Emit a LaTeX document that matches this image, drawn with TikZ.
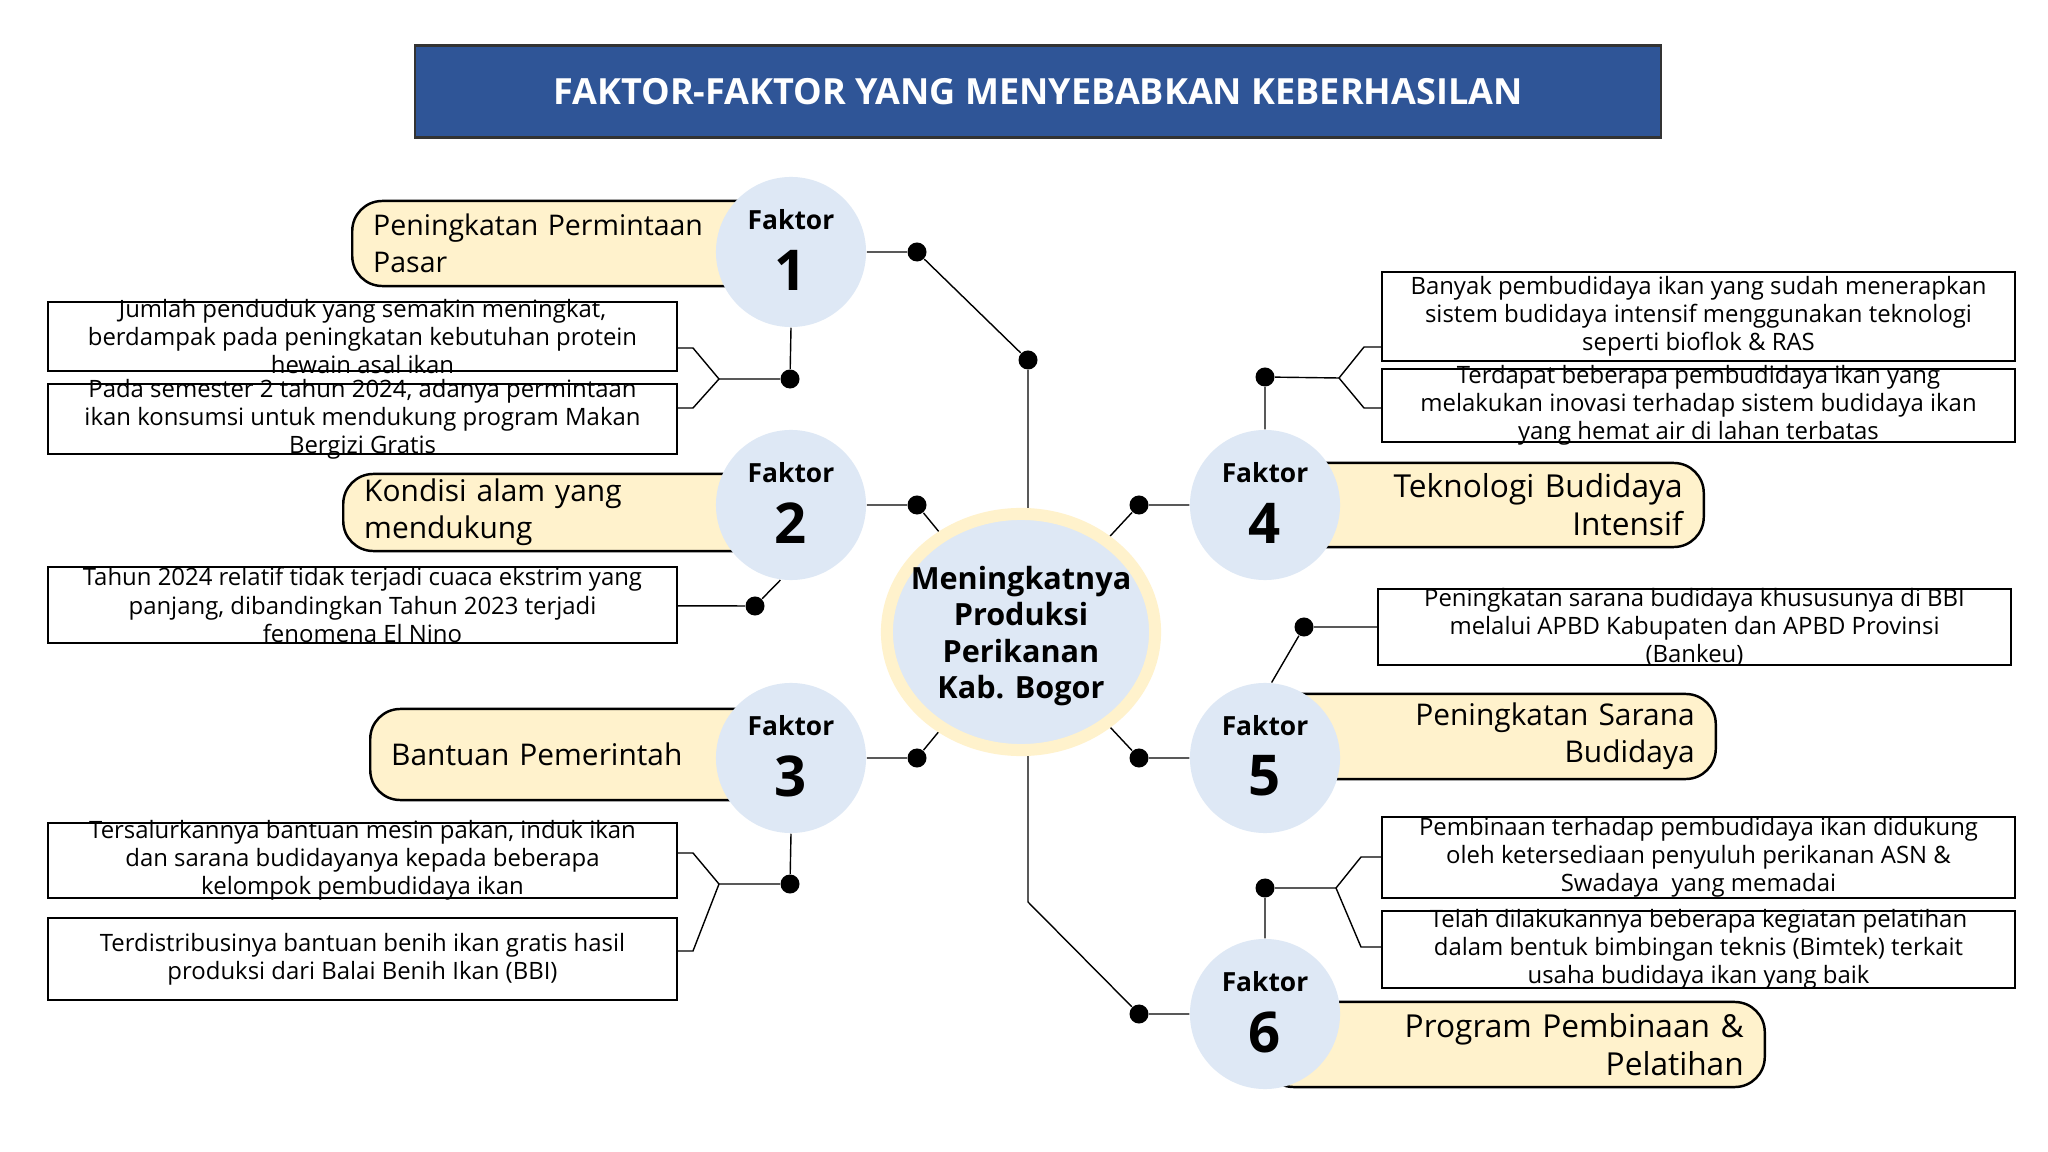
\documentclass[tikz,border=0pt]{standalone}
\usepackage{fontspec}
\setmainfont{Open Sans}
\usetikzlibrary{shapes.geometric,backgrounds}

\definecolor{titleblue}{HTML}{2F5597}
\definecolor{fblue}{HTML}{DEE8F5}
\definecolor{pillyellow}{HTML}{FFF2CC}

\tikzset{
    conn/.style={line width=0.85pt, black},
    dot/.style={circle, fill=black, inner sep=0pt, minimum size=0.19cm},
    fcircle/.style={circle, fill=fblue, inner sep=0pt, minimum size=1.5cm},
    fword/.style={font=\fontsize{7.5}{9}\selectfont\bfseries, yshift=0.32cm},
    fnum/.style={font=\fontsize{16}{18}\selectfont\bfseries, yshift=-0.18cm},
    pill/.style={draw, line width=0.7pt, fill=pillyellow, rounded corners=0.3cm, inner xsep=0.21cm, inner ysep=0pt, font=\fontsize{8.5}{10.5}\selectfont},
    desc/.style={draw, line width=0.6pt, fill=white, inner sep=0pt},
    dtext/.style={font=\fontsize{6.8}{8}\selectfont, align=center, inner sep=0pt},
    titlebox/.style={draw=black!80, line width=0.6pt, fill=titleblue, text=white, font=\fontsize{10.25}{12}\selectfont\bfseries, minimum width=12.46cm, minimum height=0.92cm},
    ctrnode/.style={ellipse, draw=pillyellow, line width=0.12cm, fill=fblue, inner sep=0pt, minimum width=2.68cm, minimum height=2.36cm},
    ctext/.style={align=center, inner sep=0pt, yshift=-0.04cm, font=\fontsize{8.7}{10.3}\selectfont\bfseries}
}

\begin{document}
\begin{tikzpicture}[x=0.01cm, y=-0.01cm]
    \useasboundingbox (0,0) rectangle (2048,1152);

    % Title
    \node[titlebox] (title) at (1038,91.5) {\raisebox{-0.09cm}{FAKTOR-FAKTOR YANG MENYEBABKAN KEBERHASILAN}};

    % Labels behind the factor circles
    \node[pill, anchor=west, minimum width=4.4cm, minimum height=0.85cm, text width=3.98cm, align=left, font=\fontsize{8.1}{10.5}\selectfont] (p1) at (351,243.5) {Peningkatan Permintaan\\Pasar};
    \node[pill, anchor=west, minimum width=4.49cm, minimum height=0.77cm, text width=4.07cm, align=left] (p2) at (342,512.5) {Kondisi alam yang\\mendukung};
    \node[pill, anchor=west, minimum width=4.22cm, minimum height=0.91cm, text width=3.8cm, align=left] (p3) at (369,754.5) {Bantuan Pemerintah};
    \node[pill, anchor=east, minimum width=4.4cm, minimum height=0.84cm, text width=3.98cm, align=right, font=\fontsize{9}{10.8}\selectfont] (p4) at (1705,505) {Teknologi Budidaya\\Intensif};
    \node[pill, anchor=east, minimum width=4.52cm, minimum height=0.85cm, text width=4.1cm, align=right] (p5) at (1717,736.5) {Peningkatan Sarana\\Budidaya};
    \node[pill, anchor=east, minimum width=5.01cm, minimum height=0.85cm, text width=4.59cm, align=right, font=\fontsize{9}{10.8}\selectfont] (p6) at (1766,1044.5) {Program Pembinaan \&\\Pelatihan};

    % Factor circles
    \node[fcircle, label={[fword]center:Faktor}, label={[fnum]center:1}] (f1) at (791,252) {};
    \node[fcircle, label={[fword]center:Faktor}, label={[fnum]center:2}] (f2) at (791,505) {};
    \node[fcircle, label={[fword]center:Faktor}, label={[fnum]center:3}] (f3) at (791,758) {};
    \node[fcircle, label={[fword]center:Faktor}, label={[fnum]center:4}] (f4) at (1265,505) {};
    \node[fcircle, label={[fword]center:Faktor}, label={[fnum]center:5}] (f5) at (1265,758) {};
    \node[fcircle, label={[fword]center:Faktor}, label={[fnum]center:6}] (f6) at (1265,1014) {};

    % Centre
    \node[ctrnode, label={[ctext]center:Meningkatnya\\Produksi\\Perikanan\\Kab. Bogor}] (ctr) at (1021,632) {};

    % Description boxes, left
    \node[desc, minimum width=6.29cm, minimum height=0.69cm, label={[dtext]center:Jumlah penduduk yang semakin meningkat,\\berdampak pada peningkatan kebutuhan protein\\hewain asal ikan}] (d1a) at (362.5,336.5) {};
    \node[desc, minimum width=6.29cm, minimum height=0.70cm, label={[dtext]center:Pada semester 2 tahun 2024, adanya permintaan\\ikan konsumsi untuk mendukung program Makan\\Bergizi Gratis}] (d1b) at (362.5,419) {};
    \node[desc, minimum width=6.29cm, minimum height=0.76cm, label={[dtext]center:Tahun 2024 relatif tidak terjadi cuaca ekstrim yang\\panjang, dibandingkan Tahun 2023 terjadi\\fenomena El Nino}] (d2) at (362.5,605) {};
    \node[desc, minimum width=6.29cm, minimum height=0.75cm, label={[dtext]center:Tersalurkannya bantuan mesin pakan, induk ikan\\dan sarana budidayanya kepada beberapa\\kelompok pembudidaya ikan}] (d3a) at (362.5,860.5) {};
    \node[desc, minimum width=6.29cm, minimum height=0.82cm, label={[dtext]center:Terdistribusinya bantuan benih ikan gratis hasil\\produksi dari Balai Benih Ikan (BBI)}] (d3b) at (362.5,959) {};

    % Description boxes, right
    \node[desc, minimum width=6.33cm, minimum height=0.89cm, label={[dtext]center:Banyak pembudidaya ikan yang sudah menerapkan\\sistem budidaya intensif menggunakan teknologi\\seperti bioflok \& RAS}] (d4a) at (1698.5,316.5) {};
    \node[desc, minimum width=6.33cm, minimum height=0.73cm, label={[dtext]center:Terdapat beberapa pembudidaya ikan yang\\melakukan inovasi terhadap sistem budidaya ikan\\yang hemat air di lahan terbatas}] (d4b) at (1698.5,405.5) {};
    \node[desc, minimum width=6.33cm, minimum height=0.76cm, label={[dtext]center:Peningkatan sarana budidaya khususunya di BBI\\melalui APBD Kabupaten dan APBD Provinsi\\(Bankeu)}] (d5) at (1694.5,627) {};
    \node[desc, minimum width=6.33cm, minimum height=0.81cm, label={[dtext]center:Pembinaan terhadap pembudidaya ikan didukung\\oleh ketersediaan penyuluh perikanan ASN \&\\Swadaya\ \ yang memadai}] (d6a) at (1698.5,857.5) {};
    \node[desc, minimum width=6.33cm, minimum height=0.77cm, label={[dtext]center:Telah dilakukannya beberapa kegiatan pelatihan\\dalam bentuk bimbingan teknis (Bimtek) terkait\\usaha budidaya ikan yang baik}] (d6b) at (1698.5,949.5) {};

    % Dots
    \node[dot] (k1) at (917,252) {};
    \node[dot] (m1) at (1028,360) {};
    \node[dot] (c1) at (790,379) {};
    \node[dot] (k2) at (917,505) {};
    \node[dot] (c2) at (755,606) {};
    \node[dot] (k3) at (917,758) {};
    \node[dot] (c3) at (790,884) {};
    \node[dot] (k4) at (1139,505) {};
    \node[dot] (c4) at (1265,377) {};
    \node[dot] (k5) at (1139,758) {};
    \node[dot] (c5) at (1304,627) {};
    \node[dot] (k6) at (1139,1014) {};
    \node[dot] (c6) at (1265,888) {};

    % Bends, junctions and box ends
    \coordinate (m6) at (1028,902);
    \coordinate (j1) at (719,379);
    \coordinate (j3) at (719,884);
    \coordinate (j4) at (1339,378);
    \coordinate (j6) at (1336,888);
    \coordinate (s1a) at (677,348);
    \coordinate (s1b) at (677,408);
    \coordinate (s3a) at (677,853);
    \coordinate (s3b) at (677,951);
    \coordinate (s4a) at (1382,347);
    \coordinate (s4b) at (1382,408);
    \coordinate (s6a) at (1382,857);
    \coordinate (s6b) at (1382,947);

    % Canvas and connectors
    \begin{scope}[on background layer, conn]
        \fill[white] (0,0) rectangle (2048,1152);
        \draw (f1) -- (k1) -- (m1) -- (m1 |- ctr.north);
        \draw (f1.south) -- (c1) -- (j1) -- (693,348) -- (s1a);
        \draw (j1) -- (693,408) -- (s1b);
        \draw (f2) -- (k2) -- (ctr);
        \draw (f2.-98) -- (c2) -- (d2);
        \draw (f3) -- (k3) -- (ctr);
        \draw (f3.south) -- (c3) -- (j3) -- (693,853) -- (s3a);
        \draw (j3) -- (693,951) -- (s3b);
        \draw (f4) -- (k4) -- (ctr);
        \draw (f4.north) -- (c4) -- (j4) -- (1364,347) -- (s4a);
        \draw (j4) -- (1364,408) -- (s4b);
        \draw (f5) -- (k5) -- (ctr);
        \draw (f5.85) -- (c5) -- (d5);
        \draw (f6) -- (k6) -- (m6) -- (m6 |- ctr.south);
        \draw (f6.north) -- (c6) -- (j6) -- (1361,857) -- (s6a);
        \draw (j6) -- (1361,947) -- (s6b);
    \end{scope}
\end{tikzpicture}
\end{document}
